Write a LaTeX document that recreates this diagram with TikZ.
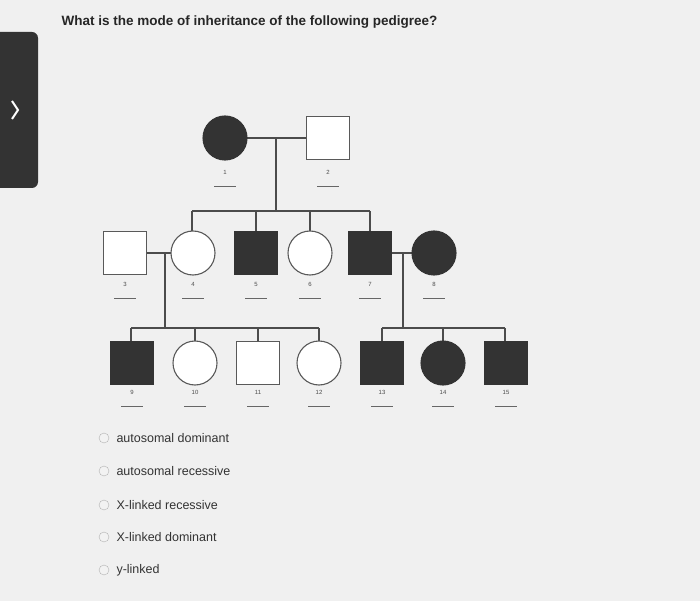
\documentclass[tikz,border=0pt]{standalone}
\usepackage{fontspec}
\setmainfont{Liberation Sans}
\begin{document}
\begin{tikzpicture}[x=1pt,y=-1pt,
  ln/.style={draw=black!70,line width=1.1pt},
  aff/.style={fill=black!80,draw=black!80,line width=1.1pt},
  un/.style={fill=white,draw=black!65,line width=1.1pt},
  num/.style={font=\fontsize{6}{7}\selectfont,text=black!70},
  opt/.style={font=\fontsize{12.5}{14}\selectfont,text=black!80,anchor=west},
  radio/.style={circle,draw=black!30,fill=black!5,minimum size=10pt,inner sep=0pt}]
\fill[black!6] (0,0) rectangle (700,601);
\useasboundingbox (0,0) rectangle (700,601);
\fill[black!80,rounded corners=6pt] (-10,32) rectangle (38,188);
\draw[white,line width=2pt] (12,101) -- (18,110) -- (12,119);
\node[anchor=west,font=\bfseries\fontsize{13.5}{16}\selectfont,text=black!85] (title) at (58,22) {What is the mode of inheritance of the following pedigree?};
% coordinates
\coordinate (m12) at (276,138); \coordinate (s1) at (276,211);
\coordinate (m34) at (165,253); \coordinate (s2) at (165,328);
\coordinate (m78) at (403,253); \coordinate (s3) at (403,328);
% lines
\draw[ln] (225,138) -- (328,138);
\draw[ln] (m12) -- (s1);
\draw[ln] (192,211) -- (370,211);
\foreach \x in {192,256,310,370} \draw[ln] (\x,211) -- (\x,235);
\draw[ln] (125,253) -- (193,253);
\draw[ln] (m34) -- (s2);
\draw[ln] (131,328) -- (319,328);
\foreach \x in {131,195,258,319} \draw[ln] (\x,328) -- (\x,345);
\draw[ln] (370,253) -- (434,253);
\draw[ln] (m78) -- (s3);
\draw[ln] (382,328) -- (505,328);
\foreach \x in {382,443,505} \draw[ln] (\x,328) -- (\x,345);
% individuals
\newcommand{\fem}[4]{\node[#4,circle,minimum size=44pt,inner sep=0pt] (p#3) at (#1,#2) {};}
\newcommand{\mal}[4]{\node[#4,rectangle,minimum size=43pt,inner sep=0pt] (p#3) at (#1,#2) {};}
\newcommand{\lab}[3]{\node[num] (n#3) at (#1,#2) {#3}; \draw[black!60,line width=0.8pt] (#1-11,#2+14) -- (#1+11,#2+14);}
\fem{225}{138}{1}{aff} \mal{328}{138}{2}{un}
\mal{125}{253}{3}{un} \fem{193}{253}{4}{un} \mal{256}{253}{5}{aff}
\fem{310}{253}{6}{un} \mal{370}{253}{7}{aff} \fem{434}{253}{8}{aff}
\mal{132}{363}{9}{aff} \fem{195}{363}{10}{un} \mal{258}{363}{11}{un}
\fem{319}{363}{12}{un} \mal{382}{363}{13}{aff} \fem{443}{363}{14}{aff}
\mal{506}{363}{15}{aff}
\lab{225}{172}{1} \lab{328}{172}{2}
\lab{125}{284}{3} \lab{193}{284}{4} \lab{256}{284}{5} \lab{310}{284}{6}
\lab{370}{284}{7} \lab{434}{284}{8}
\lab{132}{392}{9} \lab{195}{392}{10} \lab{258}{392}{11} \lab{319}{392}{12}
\lab{382}{392}{13} \lab{443}{392}{14} \lab{506}{392}{15}
% options
\foreach \y/\t [count=\i] in {438/autosomal dominant,471/autosomal recessive,505/X-linked recessive,537/X-linked dominant,570/y-linked}{
  \node[radio] (r\i) at (104,\y) {};
  \node[opt] (o\i) at (113,\y) {\t};
}
\end{tikzpicture}
\end{document}
